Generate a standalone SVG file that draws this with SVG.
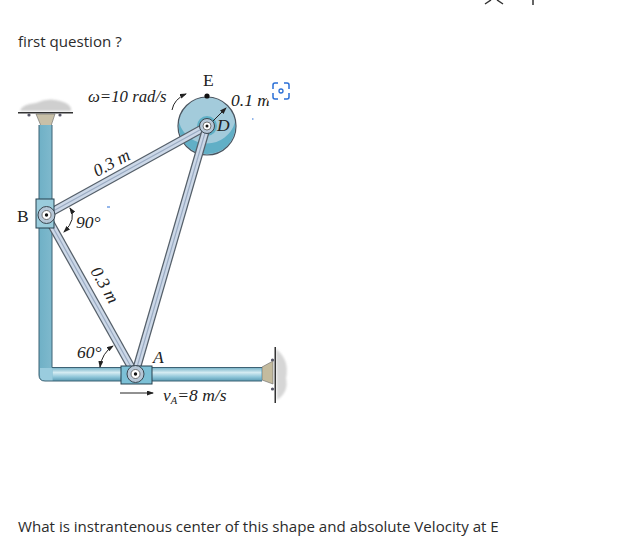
<svg xmlns="http://www.w3.org/2000/svg" width="622" height="557" viewBox="0 0 622 557">
<defs>
<linearGradient id="tv" x1="0" x2="1" y1="0" y2="0"><stop offset="0" stop-color="#6fb0c6"/><stop offset="0.35" stop-color="#cfe8f0"/><stop offset="0.7" stop-color="#8cc4d8"/><stop offset="1" stop-color="#5a9ab2"/></linearGradient>
<linearGradient id="th" x1="0" x2="0" y1="0" y2="1"><stop offset="0" stop-color="#7cb6ca"/><stop offset="0.35" stop-color="#d4ebf2"/><stop offset="0.7" stop-color="#8cc4d8"/><stop offset="1" stop-color="#5a9ab2"/></linearGradient>
<marker id="ah" markerWidth="7" markerHeight="5" refX="6" refY="2.500" orient="auto" markerUnits="userSpaceOnUse"><path d="M0 0L7 2.500L0 5Z" fill="#222"/></marker>
<marker id="as" markerWidth="7" markerHeight="5" refX="1" refY="2.500" orient="auto" markerUnits="userSpaceOnUse"><path d="M7 0L0 2.500L7 5Z" fill="#222"/></marker>
<filter id="bl" x="-20%" y="-20%" width="140%" height="140%"><feGaussianBlur stdDeviation="1"/></filter>
</defs>
<style>
.ui{font-family:"Open Sans","Noto Sans",sans-serif;font-size:15.1px;fill:#2b2b2b}
.lb{font-family:"Liberation Serif",serif;font-size:17.500px;fill:#222}
.it{font-family:"Liberation Serif",serif;font-size:17.500px;font-style:italic;fill:#222}
.lo{stroke:#56606a;stroke-width:8.500;stroke-linecap:butt}
.li{stroke:#ccd8e8;stroke-width:6;stroke-linecap:butt}
.lc{stroke:#9aabc2;stroke-width:1.200}
.dim{fill:none;stroke:#222;stroke-width:1}
</style>
<rect width="622" height="557" fill="#fff"/>
<text class="ui" x="18" y="47">first question ?</text>
<text class="ui" x="18" y="532">What is instrantenous center of this shape and absolute Velocity at E</text>
<path d="M485 4L491 0M497 0L503 4M533 0V5" stroke="#333" stroke-width="1.500" fill="none"/>

<g id="supports">
<path d="M20 111Q22 104 36 103Q48 97 60 101Q72 104 71 111Z" fill="#cfcfcf" filter="url(#bl)"/>
<rect x="18" y="112" width="55" height="1.500" fill="#333"/>
<circle cx="29" cy="115" r="1.600" fill="#556"/><circle cx="60" cy="115" r="1.600" fill="#556"/>
<path d="M36 114H55L51 126H41Z" fill="#c8c0a8" stroke="#666" stroke-width="0.6"/>
<path d="M276 349Q290 360 286 378Q289 392 277 400Z" fill="#d6d6d6" filter="url(#bl)"/>
<rect x="274.500" y="347" width="1.500" height="56" fill="#333"/>
<circle cx="272.500" cy="360" r="1.600" fill="#556"/><circle cx="272.500" cy="389" r="1.600" fill="#556"/>
<path d="M273 361V384L262 380V367Z" fill="#c4bb9e" stroke="#666" stroke-width="0.6"/>
</g>

<g id="frame">
<path d="M39 125H52V367.500H262V381H45Q39 381 39 375Z" fill="url(#tv)"/>
<rect x="52.500" y="368" width="209" height="13" fill="url(#th)"/>
<path d="M40 368H52.500V381H45Q40 381 40 375Z" fill="#9accde"/>
<path d="M52 125V367.500H262M262 381H45Q39 381 39 375V125" fill="none" stroke="#3d6274"/>
</g>

<g id="disk">
<circle cx="207" cy="126" r="29" fill="#a3cbdb" stroke="#4a5560" stroke-width="1.200"/>
<path d="M179 122A29 29 0 0 0 235 122A28 28 0 0 1 207 154A28 28 0 0 1 179 122Z" fill="#45a2bd" opacity="0.7"/>
<circle cx="207" cy="126" r="10" fill="#5fb0c6"/>
</g>

<g id="links">
<line class="lo" x1="46" y1="215" x2="207" y2="126"/>
<line class="li" x1="46" y1="215" x2="207" y2="126"/>
<line class="lc" x1="46" y1="215" x2="207" y2="126"/>
<line class="lo" x1="46" y1="215" x2="135" y2="374"/>
<line class="li" x1="46" y1="215" x2="135" y2="374"/>
<line class="lc" x1="46" y1="215" x2="135" y2="374"/>
<line class="lo" x1="135" y1="374" x2="207" y2="126"/>
<line class="li" x1="135" y1="374" x2="207" y2="126"/>
<line class="lc" x1="135" y1="374" x2="207" y2="126"/>
</g>

<g id="node-B">
<rect x="36" y="199" width="18" height="29" fill="#9accdc" stroke="#26404e" stroke-width="1"/>
<circle cx="46.500" cy="215" r="8.500" fill="#b5c6d6" stroke="#3a4650" stroke-width="1"/>
<circle cx="46.500" cy="215" r="4.500" fill="#fff" stroke="#555" stroke-width="0.8"/>
<circle cx="46.500" cy="215" r="1.700" fill="#111"/>
</g>
<g id="node-A">
<rect x="121" y="366" width="31" height="18" fill="#7cc0d6" stroke="#26404e" stroke-width="1"/>
<circle cx="135.500" cy="374" r="8.500" fill="#b5c6d6" stroke="#3a4650" stroke-width="1"/>
<circle cx="135.500" cy="374" r="4.500" fill="#fff" stroke="#555" stroke-width="0.8"/>
<circle cx="135.500" cy="374" r="1.700" fill="#111"/>
</g>
<g id="node-D">
<circle cx="207" cy="126" r="7.500" fill="#b5c6d6" stroke="#3a4650" stroke-width="1"/>
<circle cx="207" cy="126" r="4" fill="#fff" stroke="#555" stroke-width="0.8"/>
<circle cx="207" cy="126" r="1.500" fill="#111"/>
</g>
<g id="node-E"><circle cx="207" cy="96" r="2.600" fill="#111"/></g>

<g id="connectors">
<line class="dim" x1="213" y1="121" x2="226" y2="108" marker-end="url(#ah)"/>
<path class="dim" d="M172 110Q174 99 186 94" marker-end="url(#ah)"/>
<path class="dim" d="M70 208Q77 219 64 232" marker-start="url(#as)" marker-end="url(#ah)"/>
<path class="dim" d="M100 367Q102 353 113 346" marker-start="url(#as)" marker-end="url(#ah)"/>
<line x1="120" y1="393" x2="153" y2="393" stroke="#222" stroke-width="1" marker-end="url(#ah)"/>
</g>

<g id="labels">
<text class="lb" x="203" y="86">E</text>
<text class="it" x="88" y="102" font-size="16.800" style="font-size:16.800px">ω=10 rad/s</text>
<text class="it" x="231" y="106">0.1 m</text>
<text class="it" x="217" y="131">D</text>
<text class="lb" x="17" y="222">B</text>
<text class="it" x="76" y="228">90°</text>
<text class="it" x="77" y="358">60°</text>
<text class="it" x="153" y="363">A</text>
<text class="it" x="163" y="401">v<tspan font-size="10.500" dy="3">A</tspan><tspan dy="-3">=8 m/s</tspan></text>
<text class="it" transform="translate(97 177) rotate(-28)">0.3 m</text>
<text class="it" transform="translate(90 271) rotate(60)">0.3 m</text>
</g>

<g id="scan-icon">
<circle cx="281" cy="91" r="16" fill="#fff"/>
<path d="M273 89V85Q273 83 275 83H278M284 83H287Q289 83 289 85V89M289 93V97Q289 99 287 99H284M278 99H275Q273 99 273 97V93" fill="none" stroke="#2a6fd6" stroke-width="1.500"/>
<circle cx="281" cy="91" r="2" fill="none" stroke="#2a6fd6" stroke-width="1.300"/>
</g>
<path d="M252 119h1.500" stroke="#2a6fd6" stroke-width="1"/>
<path d="M107 207h3" stroke="#2a6fd6" stroke-width="1"/>
</svg>
